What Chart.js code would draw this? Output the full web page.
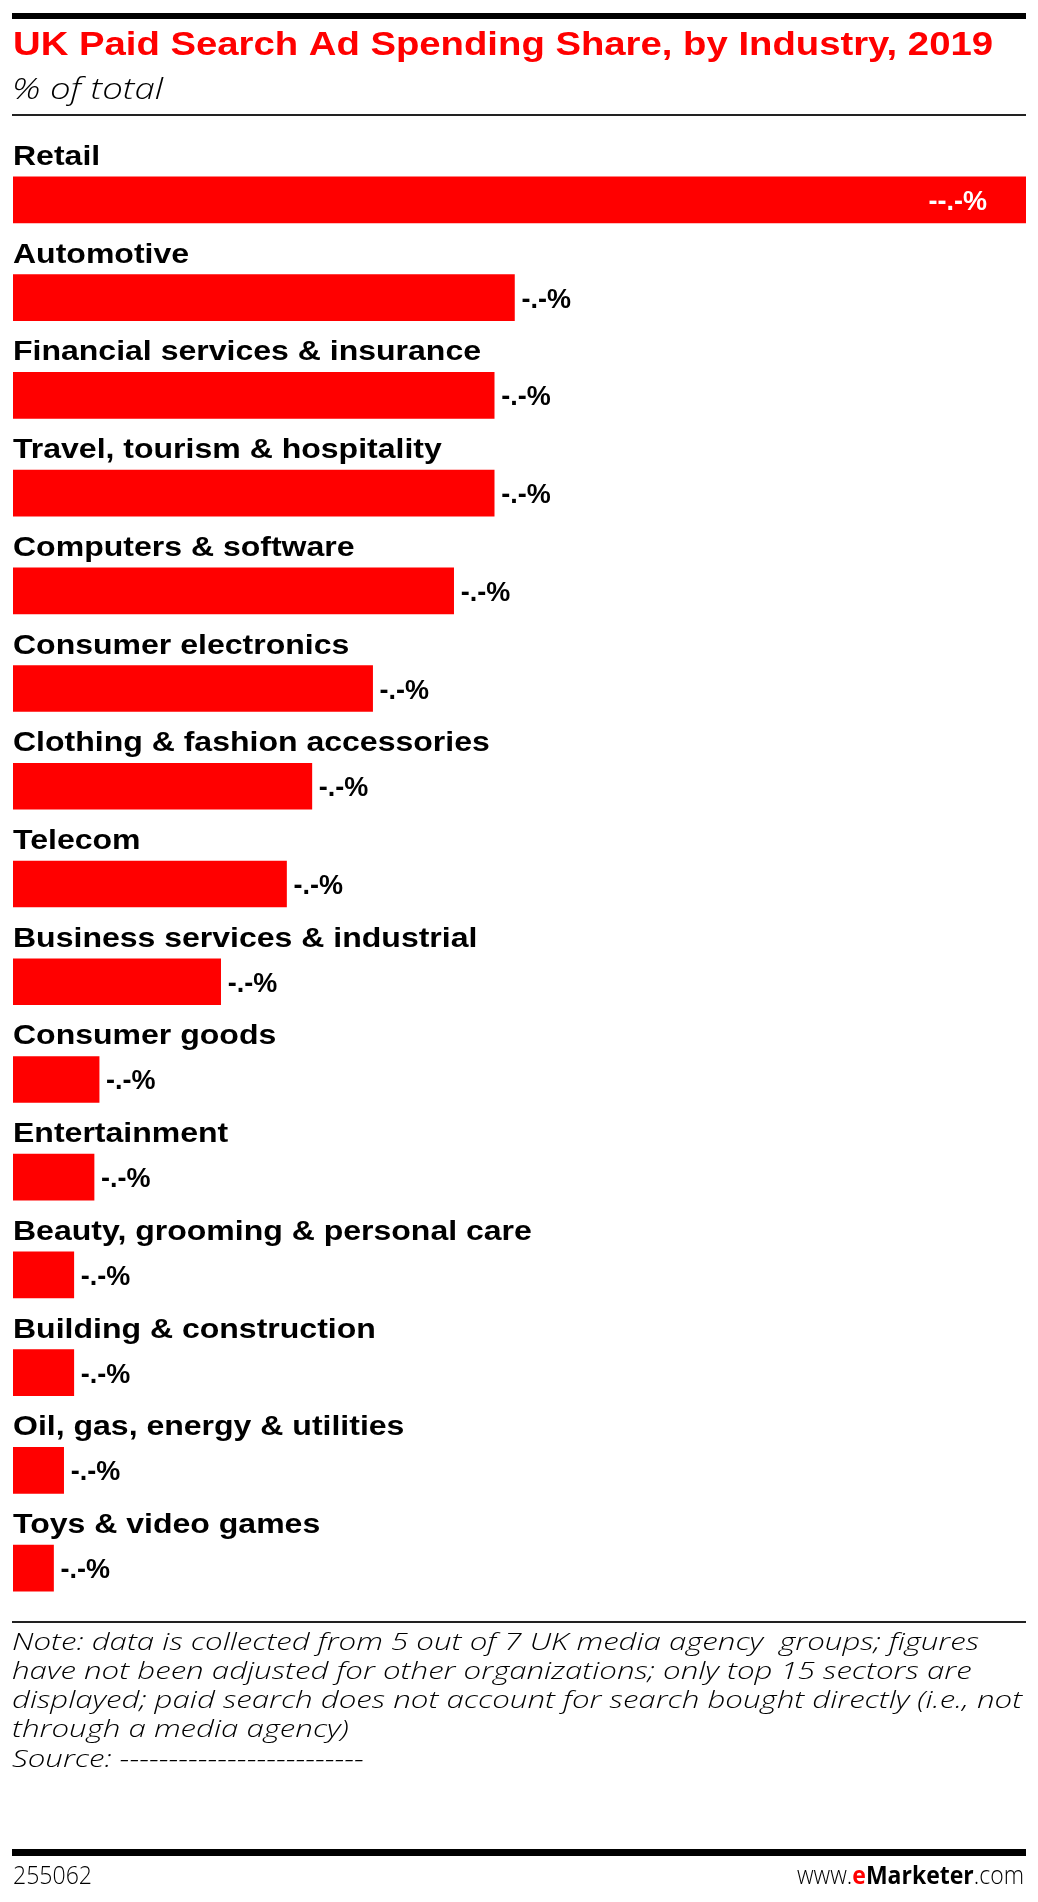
<!DOCTYPE html>
<html><head><meta charset="utf-8">
<script src="https://cdn.jsdelivr.net/npm/chart.js@4.4.1/dist/chart.umd.min.js"></script>
<style>html,body{margin:0;padding:0;background:#fff;}canvas{display:block;}</style>
</head><body>
<canvas id="c" width="1038" height="1902"></canvas>
<script>
// ---- data ----
const categories = [
  "Retail",
  "Automotive",
  "Financial services & insurance",
  "Travel, tourism & hospitality",
  "Computers & software",
  "Consumer electronics",
  "Clothing & fashion accessories",
  "Telecom",
  "Business services & industrial",
  "Consumer goods",
  "Entertainment",
  "Beauty, grooming & personal care",
  "Building & construction",
  "Oil, gas, energy & utilities",
  "Toys & video games"
];
const values = [20.0, 9.9, 9.5, 9.5, 8.7, 7.1, 5.9, 5.4, 4.1, 1.7, 1.6, 1.2, 1.2, 1.0, 0.8];
const valueLabels = ["--.-%", "-.-%", "-.-%", "-.-%", "-.-%", "-.-%", "-.-%", "-.-%", "-.-%", "-.-%", "-.-%", "-.-%", "-.-%", "-.-%", "-.-%"];
const titleText = "UK Paid Search Ad Spending Share, by Industry, 2019";
const subtitleText = "% of total";
const noteLines = [
  "Note: data is collected from 5 out of 7 UK media agency  groups; figures",
  "have not been adjusted for other organizations; only top 15 sectors are",
  "displayed; paid search does not account for search bought directly (i.e., not",
  "through a media agency)",
  "Source: -------------------------"
];
const chartId = "255062";

const RED = "#ff0000";

function drawScaled(ctx, text, x, y, sx, align) {
  ctx.save();
  const w = ctx.measureText(text).width * sx;
  let left = x;
  if (align === "right") left = x - w;
  ctx.translate(left, y);
  ctx.scale(sx, 1);
  ctx.textAlign = "left";
  ctx.fillText(text, 0, 0);
  ctx.restore();
  return w;
}
function fitScale(ctx, text, target) {
  return target / ctx.measureText(text).width;
}

const textPlugin = {
  id: "texts",
  beforeDraw(chart) {
    const ctx = chart.ctx;
    ctx.save();
    ctx.fillStyle = "#fff";
    ctx.fillRect(0, 0, chart.width, chart.height);
    ctx.restore();
  },
  afterDatasetsDraw(chart) {
    const ctx = chart.ctx;
    const area = chart.chartArea;
    const L = 12, R = 1026;
    ctx.save();
    ctx.textBaseline = "alphabetic";

    // header
    ctx.fillStyle = "#000";
    ctx.fillRect(L, 13, R - L, 6);
    ctx.font = 'bold 33px "Liberation Sans", Arial, sans-serif';
    ctx.fillStyle = RED;
    drawScaled(ctx, titleText, 13, 55, fitScale(ctx, titleText, 980), "left");
    ctx.font = 'italic 300 29px "Open Sans", sans-serif';
    ctx.fillStyle = "#000";
    drawScaled(ctx, subtitleText, 12, 99, fitScale(ctx, subtitleText, 151), "left");
    ctx.fillStyle = "#222";
    ctx.fillRect(L, 114, R - L, 2);

    // labels
    const meta = chart.getDatasetMeta(0);
    ctx.font = 'bold 28px "Liberation Sans", Arial, sans-serif';
    const labScale = fitScale(ctx, "Financial services & insurance", 468);
    meta.data.forEach((bar, i) => {
      const p = bar.getProps(["x", "y", "base", "height"], true);
      const top = p.y - p.height / 2;
      ctx.fillStyle = "#000";
      ctx.font = 'bold 28px "Liberation Sans", Arial, sans-serif';
      drawScaled(ctx, categories[i], area.left, top - 12, labScale, "left");
      ctx.font = 'bold 27px "Liberation Sans", Arial, sans-serif';
      const vy = p.y + 10;
      if (i === 0) {
        ctx.fillStyle = "#fff";
        drawScaled(ctx, valueLabels[i], p.x - 39, vy, 1, "right");
      } else {
        ctx.fillStyle = "#000";
        drawScaled(ctx, valueLabels[i], p.x + 7, vy, 1, "left");
      }
    });

    // notes
    ctx.fillStyle = "#222";
    ctx.fillRect(L, 1621, R - L, 2);
    ctx.fillStyle = "#000";
    ctx.font = 'italic 300 24px "Open Sans", sans-serif';
    const nScale = fitScale(ctx, noteLines[0], 967);
    const baselines = [1650, 1679, 1708, 1737, 1767];
    noteLines.forEach((t, i) => drawScaled(ctx, t, 12, baselines[i], nScale, "left"));

    // footer
    ctx.fillStyle = "#000";
    ctx.fillRect(L, 1849, R - L, 7);
    ctx.font = '300 25px "Open Sans", sans-serif';
    drawScaled(ctx, chartId, 13, 1884, fitScale(ctx, chartId, 79), "left");
    let x = 1024;
    ctx.font = '300 25px "Open Sans", sans-serif';
    x -= drawScaled(ctx, ".com", x, 1884, 0.92, "right");
    ctx.font = 'bold 25px "Open Sans", sans-serif';
    x -= drawScaled(ctx, "Marketer", x, 1884, 0.92, "right");
    ctx.fillStyle = RED;
    x -= drawScaled(ctx, "e", x, 1884, 0.92, "right");
    ctx.fillStyle = "#000";
    ctx.font = '300 25px "Open Sans", sans-serif';
    drawScaled(ctx, "www.", x, 1884, 0.92, "right");
    ctx.restore();
  }
};

new Chart(document.getElementById("c"), {
  type: "bar",
  data: {
    labels: categories,
    datasets: [{
      data: values,
      backgroundColor: RED,
      borderWidth: 0,
      barThickness: 46
    }]
  },
  options: {
    indexAxis: "y",
    responsive: false,
    animation: false,
    devicePixelRatio: 1,
    layout: { padding: { left: 13, right: 12, top: 151, bottom: 285 } },
    plugins: { legend: { display: false }, tooltip: { enabled: false } },
    scales: {
      x: { display: false, min: 0, max: Math.max(...values), grid: { display: false } },
      y: { display: false, grid: { display: false } }
    }
  },
  plugins: [textPlugin]
});
</script>
</body></html>
